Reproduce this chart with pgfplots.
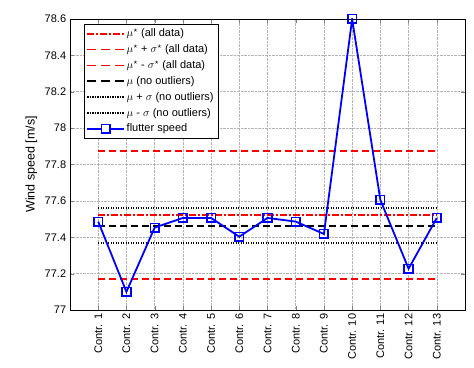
\documentclass[border=0pt]{standalone}
\usepackage{fontspec}
\setmainfont{Liberation Sans}
\usepackage{pgfplots}
\pgfplotsset{compat=1.18}
\tikzset{
  reddash/.style={color=red, line width=1.7pt, dash pattern=on 6.5pt off 4.5pt},
  blkdash/.style={color=black, line width=1.7pt, dash pattern=on 6.5pt off 4.5pt},
  blkdot/.style={color=black, line width=1.7pt, dash pattern=on 1.2pt off 1.3pt},
  reddashdot/.style={color=red, line width=1.7pt, dash pattern=on 7pt off 2pt on 2pt off 2pt},
}
\begin{document}
\fontsize{11}{12}\selectfont
\begin{tikzpicture}
\begin{axis}[
  scale only axis,
  width=395pt, height=291pt,
  xmin=0, xmax=14, ymin=77, ymax=78.6,
  xtick={1,...,13},
  xticklabels={Contr. 1,Contr. 2,Contr. 3,Contr. 4,Contr. 5,Contr. 6,Contr. 7,Contr. 8,Contr. 9,Contr. 10,Contr. 11,Contr. 12,Contr. 13},
  x tick label style={rotate=90, anchor=east},
  ytick={77,77.2,...,78.6},
  yticklabels={77,77.2,77.4,77.6,77.8,78,78.2,78.4,78.6},
  /pgf/number format/assume math mode=true,
  tick align=inside,
  major tick length=4pt,
  axis line style={line width=0.9pt},
  grid=major,
  grid style={gray!60, densely dotted, line width=0.5pt},
  ylabel={Wind speed [m/s]},
  ylabel style={font=\fontsize{12.5}{14}\selectfont},
  tick label style={font=\fontsize{11}{12}\selectfont},
  legend style={at={(0.035,0.982)}, anchor=north west, draw=black, fill=white,
     font=\fontsize{11}{12}\selectfont, row sep=2.2pt, inner sep=2.5pt, cells={anchor=west}},
]
\addplot[reddashdot, forget plot] coordinates {(1,77.524) (13,77.524)};
\addplot[reddash, forget plot] coordinates {(1,77.874) (13,77.874)};
\addplot[reddash, forget plot] coordinates {(1,77.17) (13,77.17)};
\addplot[blkdash, forget plot] coordinates {(1,77.46) (13,77.46)};
\addplot[blkdot, forget plot] coordinates {(1,77.56) (13,77.56)};
\addplot[blkdot, forget plot] coordinates {(1,77.367) (13,77.367)};
\addplot[color=blue, line width=1.8pt, mark=square, mark size=4.3pt, mark options={line width=1.6pt, fill=none, solid}, forget plot] coordinates {
(1,77.486) (2,77.10) (3,77.453) (4,77.506) (5,77.506) (6,77.403) (7,77.506) (8,77.486) (9,77.418) (10,78.60) (11,77.605) (12,77.227) (13,77.506)};
\addlegendimage{legend image code/.code={\draw[reddashdot] (0cm,0cm) -- (1.28cm,0cm);}}
\addlegendentry{$\mu^{\star}$ (all data)}
\addlegendimage{legend image code/.code={\draw[red, line width=1.7pt] (0cm,0cm) -- (0.3cm,0cm) (0.49cm,0cm) -- (0.79cm,0cm) (0.98cm,0cm) -- (1.28cm,0cm);}}
\addlegendentry{$\mu^{\star}$ + $\sigma^{\star}$ (all data)}
\addlegendimage{legend image code/.code={\draw[red, line width=1.7pt] (0cm,0cm) -- (0.3cm,0cm) (0.49cm,0cm) -- (0.79cm,0cm) (0.98cm,0cm) -- (1.28cm,0cm);}}
\addlegendentry{$\mu^{\star}$ - $\sigma^{\star}$ (all data)}
\addlegendimage{legend image code/.code={\draw[black, line width=1.7pt] (0cm,0cm) -- (0.3cm,0cm) (0.49cm,0cm) -- (0.79cm,0cm) (0.98cm,0cm) -- (1.28cm,0cm);}}
\addlegendentry{$\mu$ (no outliers)}
\addlegendimage{legend image code/.code={\draw[blkdot] (0cm,0cm) -- (1.28cm,0cm);}}
\addlegendentry{$\mu$ + $\sigma$ (no outliers)}
\addlegendimage{legend image code/.code={\draw[blkdot] (0cm,0cm) -- (1.28cm,0cm);}}
\addlegendentry{$\mu$ - $\sigma$ (no outliers)}
\addlegendimage{legend image code/.code={\draw[blue, line width=1.8pt] (0cm,0cm) -- (0.49cm,0cm) (0.79cm,0cm) -- (1.28cm,0cm); \draw[blue, line width=1.6pt] (0.49cm,-4.3pt) rectangle (0.79cm,4.3pt);}}
\addlegendentry{flutter speed}
\end{axis}
\path (current axis.south west) ++(-70pt,-58pt) (current axis.north east) ++(9pt,19pt);
\end{tikzpicture}
\end{document}
